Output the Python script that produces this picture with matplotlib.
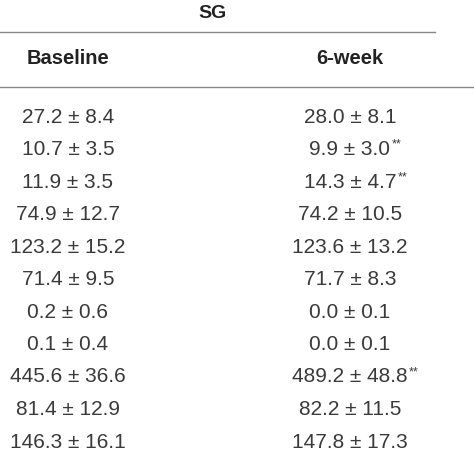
import matplotlib.pyplot as plt

# Table of SG group values: baseline vs 6-week
baseline = ["27.2 ± 8.4", "10.7 ± 3.5", "11.9 ± 3.5", "74.9 ± 12.7", "123.2 ± 15.2",
            "71.4 ± 9.5", "0.2 ± 0.6", "0.1 ± 0.4", "445.6 ± 36.6", "81.4 ± 12.9",
            "146.3 ± 16.1"]
week6 = ["28.0 ± 8.1", "9.9 ± 3.0", "14.3 ± 4.7", "74.2 ± 10.5", "123.6 ± 13.2",
         "71.7 ± 8.3", "0.0 ± 0.1", "0.0 ± 0.1", "489.2 ± 48.8", "82.2 ± 11.5",
         "147.8 ± 17.3"]
week6_marks = ["", "**", "**", "", "", "", "", "", "**", "", ""]

W, H = 474, 474
fig = plt.figure(figsize=(W / 100, H / 100), dpi=100)
ax = fig.add_axes([0, 0, 1, 1])
ax.set_xlim(0, W)
ax.set_ylim(H, 0)
ax.axis("off")

font = "Liberation Sans"
col_base, col_week = 68, 350
txt_color = "#3a3a3a"
fs = 15

ax.text(213, 13, "SG", ha="center", va="center", fontsize=14, fontweight="bold",
        family=font, color="#222222")
ax.plot([0, 435], [32, 32], color="#888888", lw=1)
ax.text(col_base, 58, "Baseline", ha="center", va="center", fontsize=14.5,
        fontweight="bold", family=font, color="#222222")
ax.text(col_week, 58, "6-week", ha="center", va="center", fontsize=14.5,
        fontweight="bold", family=font, color="#222222")
ax.plot([0, W], [87, 87], color="#888888", lw=1)

fig.canvas.draw()
for i, (b, w, m) in enumerate(zip(baseline, week6, week6_marks)):
    y = 117 + i * 32.5
    ax.text(col_base, y, b, ha="center", va="center", fontsize=fs, family=font,
            color=txt_color)
    t = ax.text(col_week, y, w, ha="center", va="center", fontsize=fs, family=font,
                color=txt_color)
    if m:
        bb = t.get_window_extent(renderer=fig.canvas.get_renderer())
        xd = ax.transData.inverted().transform((bb.x1, 0))[0]
        ax.text(xd + 1, y - 5, m, ha="left", va="center", fontsize=9, family=font,
                color=txt_color)

fig.savefig("out.png", dpi=100)
